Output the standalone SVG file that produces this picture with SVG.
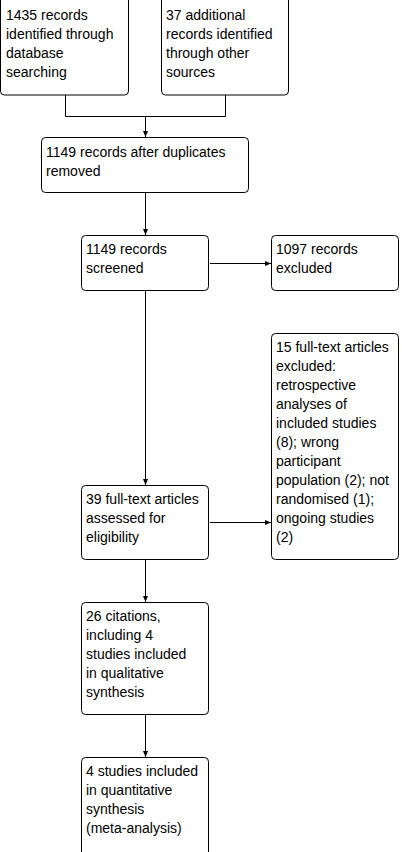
<svg xmlns="http://www.w3.org/2000/svg" width="402" height="852" viewBox="0 0 402 852">
<style>
.b{fill:#fff;stroke:#000;stroke-width:1}
.t{font-family:"Liberation Sans",Arial,sans-serif;font-size:14px;fill:#000}
.c{fill:none;stroke:#000;stroke-width:1}
</style>
<defs>
<marker id="a" viewBox="0 0 6 6" refX="6" refY="3" markerWidth="6" markerHeight="6" markerUnits="userSpaceOnUse" orient="auto"><path d="M0,0.5 L6,3 L0,5.5 Z" fill="#000"/></marker>
</defs>
<rect width="402" height="852" fill="#fff"/>
<g id="connectors">
<path class="c" d="M65.5,95 V116.5 H225.5 V95"/>
<path class="c" d="M145.5,116.5 V137" marker-end="url(#a)"/>
<path class="c" d="M145.5,193 V235" marker-end="url(#a)"/>
<path class="c" d="M210,263.5 H271" marker-end="url(#a)"/>
<path class="c" d="M145.5,291 V485" marker-end="url(#a)"/>
<path class="c" d="M210,522.5 H271" marker-end="url(#a)"/>
<path class="c" d="M145.5,560 V602" marker-end="url(#a)"/>
<path class="c" d="M145.5,715 V757" marker-end="url(#a)"/>
</g>
<g id="n1"><rect class="b" x="0.5" y="-6" width="128" height="101" rx="4"/>
<text class="t" x="6" y="20">1435 records</text><text class="t" x="6" y="39">identified through</text><text class="t" x="6" y="58">database</text><text class="t" x="6" y="77">searching</text></g>
<g id="n2"><rect class="b" x="161.5" y="-6" width="127" height="101" rx="4"/>
<text class="t" x="166" y="20">37 additional</text><text class="t" x="166" y="39">records identified</text><text class="t" x="166" y="58">through other</text><text class="t" x="166" y="77">sources</text></g>
<g id="n3"><rect class="b" x="41.5" y="137.5" width="207" height="55" rx="4"/>
<text class="t" x="46" y="157">1149 records after duplicates</text><text class="t" x="46" y="176">removed</text></g>
<g id="n4"><rect class="b" x="81.5" y="235.5" width="127" height="55" rx="4"/>
<text class="t" x="86" y="254">1149 records</text><text class="t" x="86" y="273">screened</text></g>
<g id="n5"><rect class="b" x="271.5" y="235.5" width="127" height="55" rx="4"/>
<text class="t" x="276" y="254">1097 records</text><text class="t" x="276" y="273">excluded</text></g>
<g id="n6"><rect class="b" x="81.5" y="485.5" width="127" height="74" rx="4"/>
<text class="t" x="86" y="504">39 full-text articles</text><text class="t" x="86" y="523">assessed for</text><text class="t" x="86" y="542">eligibility</text></g>
<g id="n7"><rect class="b" x="271.5" y="333.5" width="127" height="226" rx="4"/>
<text class="t" x="276" y="352">15 full-text articles</text><text class="t" x="276" y="371">excluded:</text><text class="t" x="276" y="390">retrospective</text><text class="t" x="276" y="409">analyses of</text><text class="t" x="276" y="428">included studies</text><text class="t" x="276" y="447">(8); wrong</text><text class="t" x="276" y="466">participant</text><text class="t" x="276" y="485">population (2); not</text><text class="t" x="276" y="504">randomised (1);</text><text class="t" x="276" y="523">ongoing studies</text><text class="t" x="276" y="542">(2)</text></g>
<g id="n8"><rect class="b" x="81.5" y="602.5" width="127" height="112" rx="4"/>
<text class="t" x="86" y="621">26 citations,</text><text class="t" x="86" y="640">including 4</text><text class="t" x="86" y="659">studies included</text><text class="t" x="86" y="678">in qualitative</text><text class="t" x="86" y="697">synthesis</text></g>
<g id="n9"><rect class="b" x="81.5" y="757.5" width="127" height="100" rx="4"/>
<text class="t" x="86" y="776">4 studies included</text><text class="t" x="86" y="795">in quantitative</text><text class="t" x="86" y="814">synthesis</text><text class="t" x="86" y="833">(meta-analysis)</text></g>
</svg>
